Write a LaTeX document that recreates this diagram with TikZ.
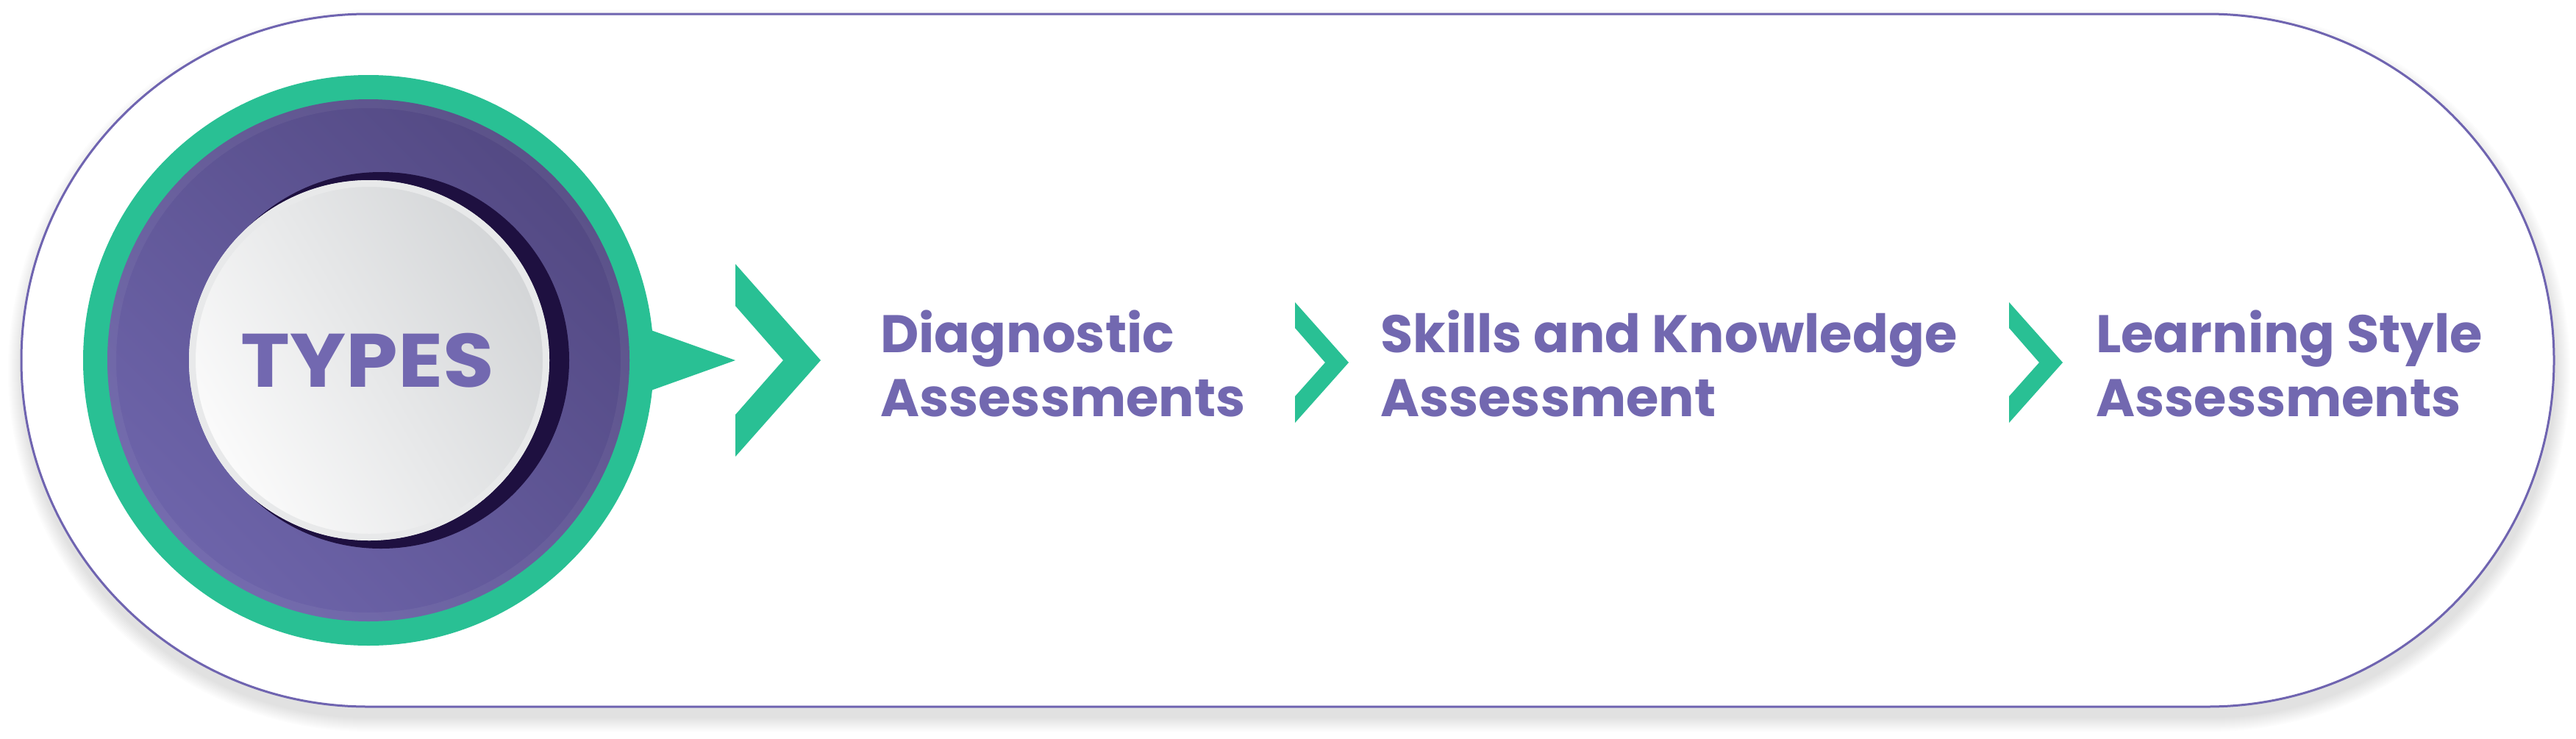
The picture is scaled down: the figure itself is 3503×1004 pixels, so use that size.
\documentclass[tikz,border=0pt]{standalone}
\usepackage{fontspec}
\setmainfont{Poppins}
\definecolor{txt}{HTML}{7268B0}
\definecolor{grn}{HTML}{29C094}
\definecolor{pdark}{HTML}{534983}
\definecolor{plight}{HTML}{6D64AA}
\definecolor{deep}{HTML}{1E1040}
\definecolor{wlight}{HTML}{FBFBFB}
\definecolor{wdark}{HTML}{D3D5D7}
\definecolor{rim}{HTML}{E8E9EA}
\definecolor{frame}{HTML}{6F64B0}
\tikzset{
  label/.style={inner sep=0pt, anchor=base west, text=txt, font=\fontsize{72}{87}\selectfont\bfseries},
  chev/.style={fill=grn},
}
\begin{document}
\begin{tikzpicture}[x=1pt,y=-1pt]
\useasboundingbox (0,0) rectangle (3503,1004);
% soft shadow of the frame
\foreach \i in {1,...,10}{
  \fill[black, opacity=0.011, rounded corners={471pt+\i*2pt}]
    (29-\i*2+2,19-\i*2+14) rectangle (3473+\i*2+2,961+\i*2+14);
}
% frame
\draw[frame, fill=white, line width=3pt, rounded corners=471pt] (29,19) rectangle (3473,961);
% badge
\fill[grn] (501,490) circle (388pt);
\fill[grn] (860,440) -- (1000,490) -- (860,540) -- cycle;
\shade[top color=pdark, bottom color=plight, shading angle=-45] (501,490) circle (355pt);
\draw[white, opacity=0.05, line width=12pt] (501,490) circle (349pt);
\fill[deep] (518,490) circle (256pt);
\shade[top color=wdark, bottom color=wlight, shading angle=-60] (502,490) circle (245pt);
\draw[rim, line width=9pt] (502,490) circle (240.5pt);
\node[inner sep=0pt, anchor=base, text=txt, font=\fontsize{103}{103}\selectfont\bfseries] (types) at (500,526) {\scalebox{1.1}[1]{TYPES}};
% chevrons
\fill[chev] (1000,359) -- (1116,490) -- (1000,621) -- (1000,564) -- (1065,490) -- (1000,416) -- cycle;
\fill[chev] (1761,411) -- (1834,493) -- (1761,575) -- (1761,539) -- (1802,493) -- (1761,446) -- cycle;
\fill[chev] (2732,411) -- (2805,493) -- (2732,575) -- (2732,539) -- (2773,493) -- (2732,446) -- cycle;
% labels
\node[label] (d1) at (1197,479) {Diagnostic};
\node[label] (d2) at (1197,566) {Assessments};
\node[label] (s1) at (1877,479) {Skills and Knowledge};
\node[label] (s2) at (1877,566) {Assessment};
\node[label] (l1) at (2850,479) {Learning Style};
\node[label] (l2) at (2850,566) {Assessments};
\end{tikzpicture}
\end{document}
